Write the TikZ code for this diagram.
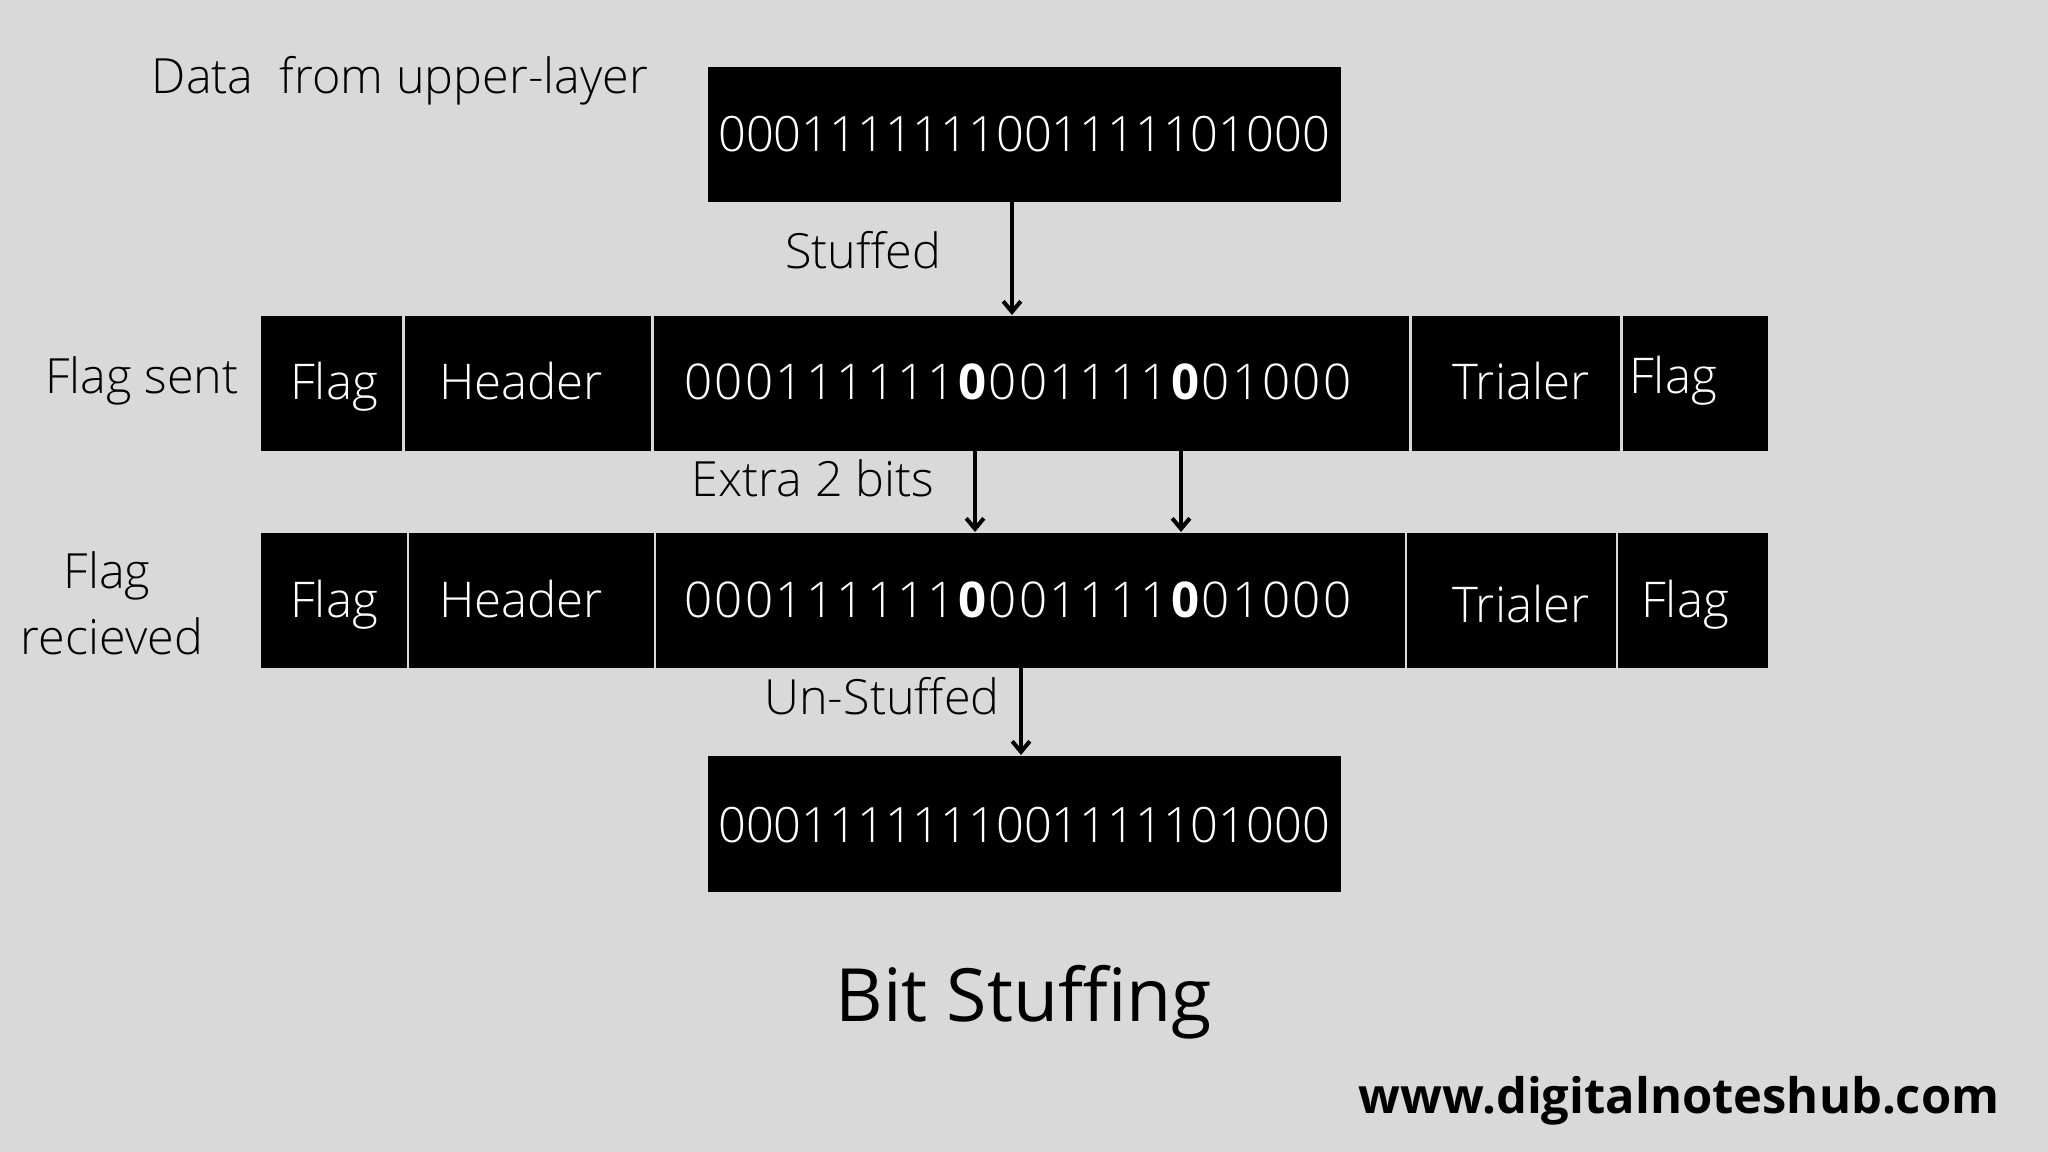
\documentclass[tikz,border=0pt]{standalone}
\usepackage{fontspec}
\setmainfont{Open Sans Light}[BoldFont={Open Sans Bold}]
\newfontfamily\wwwfont{Open Sans}[BoldFont={Open Sans Bold}]
\usetikzlibrary{arrows.meta}
\definecolor{bg}{HTML}{D9D9D9}
\tikzset{
  cell/.style={fill=black, draw=none, inner sep=0pt, anchor=north west},
  wtext/.style={text=white, anchor=base, inner sep=0pt, font=\fontsize{14}{16}\selectfont},
  rowbits/.style={wtext, font=\fontsize{14}{16}\selectfont\addfontfeatures{LetterSpace=4.7}},
  boxbits/.style={wtext, font=\fontsize{13.85}{16}\selectfont},
  btext/.style={text=black, anchor=base, inner sep=0pt, font=\fontsize{13.8}{16}\selectfont},
  arr/.style={draw=black, line width=1.15pt, -{Straight Barb[length=3pt, width=5pt, line width=1.15pt]}},
}
\begin{document}
\begin{tikzpicture}[x=0.01cm, y=-0.01cm]
\fill[bg] (0,0) rectangle (2048,1152);
\useasboundingbox (0,0) rectangle (2048,1152);
% top box
\node[cell, minimum width=633*0.01cm, minimum height=135*0.01cm] (src) at (707,66) {};
\node[boxbits] (srct) at (1024,152) {0001111111001111101000};
\node[btext] (datal) at (400,94) {Data\hspace{0.28em} from upper-layer};
% row 1
\node[cell, minimum width=141*0.01cm, minimum height=135*0.01cm] (r1c1) at (260,315) {};
\node[cell, minimum width=246*0.01cm, minimum height=135*0.01cm] (r1c2) at (404,315) {};
\node[cell, minimum width=755*0.01cm, minimum height=135*0.01cm] (r1c3) at (653,315) {};
\node[cell, minimum width=208*0.01cm, minimum height=135*0.01cm] (r1c4) at (1411,315) {};
\node[cell, minimum width=145*0.01cm, minimum height=135*0.01cm] (r1c5) at (1622,315) {};
\node[wtext] (r1t1) at (334,400) {Flag};
\node[wtext] (r1t2) at (521,400) {Header};
\node[rowbits] (r1t3) at (1018,400) {000111111\textbf{0}001111\textbf{0}01000};
\node[wtext] (r1t4) at (1521,400) {Trialer};
\node[wtext] (r1t5) at (1673,394) {Flag};
\node[btext] (sentl) at (142,394) {Flag sent};
% row 2
\node[cell, minimum width=146*0.01cm, minimum height=135*0.01cm] (r2c1) at (260,532) {};
\node[cell, minimum width=245*0.01cm, minimum height=135*0.01cm] (r2c2) at (408,532) {};
\node[cell, minimum width=749*0.01cm, minimum height=135*0.01cm] (r2c3) at (655,532) {};
\node[cell, minimum width=209*0.01cm, minimum height=135*0.01cm] (r2c4) at (1406,532) {};
\node[cell, minimum width=150*0.01cm, minimum height=135*0.01cm] (r2c5) at (1617,532) {};
\node[wtext] (r2t1) at (334,617) {Flag};
\node[wtext] (r2t2) at (521,617) {Header};
\node[rowbits] (r2t3) at (1018,617) {000111111\textbf{0}001111\textbf{0}01000};
\node[wtext] (r2t4) at (1521,623) {Trialer};
\node[wtext] (r2t5) at (1685,617) {Flag};
\node[btext] (recl1) at (107,588) {Flag};
\node[btext] (recl2) at (112,655) {recieved};
% bottom box
\node[cell, minimum width=633*0.01cm, minimum height=136*0.01cm] (dst) at (707,755) {};
\node[boxbits] (dstt) at (1024,842) {0001111111001111101000};
% labels
\node[btext] (stuffl) at (863,269) {Stuffed};
\node[btext] (extral) at (813,497) {Extra 2 bits};
\node[btext] (unstl) at (882,715) {Un-Stuffed};
\node[anchor=base, inner sep=0pt, font=\fontsize{20.9}{24}\selectfont\wwwfont] (title) at (1024,1021) {Bit Stuffing};
\node[anchor=base, inner sep=0pt, font=\fontsize{13.9}{16}\selectfont\wwwfont\bfseries] (www) at (1679,1113) {www.digitalnoteshub.com};
% arrows
\coordinate (xa) at (1012,0);
\coordinate (xb) at (975,0);
\coordinate (xc) at (1181,0);
\coordinate (xd) at (1021,0);
\draw[arr] (src.south -| xa) -- (r1c3.north -| xa);
\draw[arr] (r1c3.south -| xb) -- (r2c3.north -| xb);
\draw[arr] (r1c3.south -| xc) -- (r2c3.north -| xc);
\draw[arr] (r2c3.south -| xd) -- (dst.north -| xd);
\end{tikzpicture}
\end{document}
